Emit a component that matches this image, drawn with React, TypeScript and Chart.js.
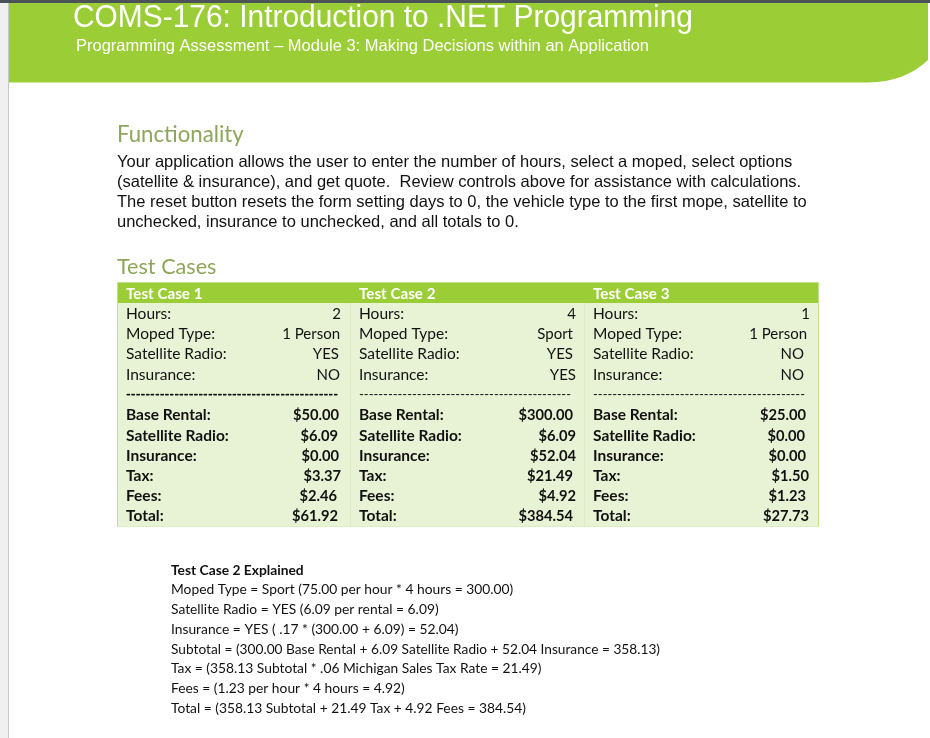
import React, { useEffect, useRef } from "react";
import { Chart, registerables } from "chart.js";

Chart.register(...registerables);

const titleText = "COMS-176: Introduction to .NET Programming";
const subtitleText = "Programming Assessment – Module 3: Making Decisions within an Application";
const functionalityHeading = "Functionality";
const functionalityLines = [
  "Your application allows the user to enter the number of hours, select a moped, select options",
  "(satellite & insurance), and get quote.  Review controls above for assistance with calculations.",
  "The reset button resets the form setting days to 0, the vehicle type to the first mope, satellite to",
  "unchecked, insurance to unchecked, and all totals to 0.",
];
const testCasesHeading = "Test Cases";
const caseNames = ["Test Case 1", "Test Case 2", "Test Case 3"];
const inputLabels = ["Hours:", "Moped Type:", "Satellite Radio:", "Insurance:"];
const costLabels = ["Base Rental:", "Satellite Radio:", "Insurance:", "Tax:", "Fees:", "Total:"];
const case1Inputs = ["2", "1 Person", "YES", "NO"];
const case2Inputs = ["4", "Sport", "YES", "YES"];
const case3Inputs = ["1", "1 Person", "NO", "NO"];
const case1Costs = ["$50.00", "$6.09", "$0.00", "$3.37", "$2.46", "$61.92"];
const case2Costs = ["$300.00", "$6.09", "$52.04", "$21.49", "$4.92", "$384.54"];
const case3Costs = ["$25.00", "$0.00", "$0.00", "$1.50", "$1.23", "$27.73"];
const explainedHeading = "Test Case 2 Explained";
const explainedLines = [
  "Moped Type = Sport (75.00 per hour * 4 hours = 300.00)",
  "Satellite Radio = YES (6.09 per rental = 6.09)",
  "Insurance = YES ( .17 * (300.00 + 6.09) = 52.04)",
  "Subtotal = (300.00 Base Rental + 6.09 Satellite Radio + 52.04 Insurance = 358.13)",
  "Tax = (358.13 Subtotal * .06 Michigan Sales Tax Rate = 21.49)",
  "Fees = (1.23 per hour * 4 hours = 4.92)",
  "Total = (358.13 Subtotal + 21.49 Tax + 4.92 Fees = 384.54)",
];
const dashes = "-".repeat(44);

const SANS = '"Liberation Sans", Arial, sans-serif';
const BODY = 'Lato, sans-serif';

const documentPlugin = {
  id: "documentPage",
  beforeDraw(chart: any) {
    const c = chart.ctx as CanvasRenderingContext2D;
    const text = (s: string, x: number, y: number, font: string, color: string, align: CanvasTextAlign = "left", maxW?: number) => {
      c.font = font;
      c.fillStyle = color;
      c.textAlign = align;
      c.textBaseline = "alphabetic";
      if (maxW) c.fillText(s, x, y, maxW);
      else c.fillText(s, x, y);
    };
    c.save();
    c.fillStyle = "#ffffff";
    c.fillRect(0, 0, 930, 738);
    c.fillStyle = "#f0f0f0";
    c.fillRect(0, 0, 8, 738);
    c.fillStyle = "#c8c8c8";
    c.fillRect(8, 0, 1, 738);
    // banner
    c.fillStyle = "#9bcd36";
    c.beginPath();
    c.moveTo(9, 0);
    c.lineTo(928, 0);
    c.lineTo(928, 60);
    c.quadraticCurveTo(905, 82, 868, 82.5);
    c.lineTo(9, 82.5);
    c.closePath();
    c.fill();
    c.fillStyle = "#4b5359";
    c.fillRect(0, 0, 930, 3);
    text(titleText, 73, 27, `31px ${SANS}`, "#ffffff", "left", 620);
    text(subtitleText, 76, 51, `16.5px ${SANS}`, "#ffffff", "left", 573);
    // body
    text(functionalityHeading, 117, 142, `22.2px ${BODY}`, "#8da65a");
    const fy = [167, 187, 207, 227];
    functionalityLines.forEach((l, i) => text(l, 117, fy[i], `16.5px ${SANS}`, "#111111", "left", 690));
    text(testCasesHeading, 117, 274, `21.6px ${BODY}`, "#8da65a");
    // table
    c.fillStyle = "#e8f3d6";
    c.fillRect(117, 282, 702, 245);
    c.fillStyle = "#9bcd36";
    c.fillRect(117, 283, 702, 20);
    c.fillStyle = "#c4e08c";
    c.fillRect(117, 282, 702, 1);
    c.fillRect(818, 282, 1, 245);
    c.fillRect(117, 282, 1, 245);
    c.fillStyle = "#dcedc0";
    c.fillRect(117, 526, 702, 1);
    c.fillRect(350, 303, 1, 223);
    c.fillRect(584, 303, 1, 223);
    const colX = [126, 359, 593];
    const inputs = [case1Inputs, case2Inputs, case3Inputs];
    const costs = [case1Costs, case2Costs, case3Costs];
    const inRight = [[341, 340, 339, 340], [576, 573, 573, 576], [810, 807, 804, 804]];
    const costRight = [[339, 338, 339, 341, 337, 338], [573, 576, 576, 573, 576, 573], [806, 805, 806, 809, 806, 809]];
    const inY = [319, 339, 359, 380];
    const costY = [420, 441, 461, 481, 501, 521];
    caseNames.forEach((n, i) => {
      text(n, colX[i], 299, `bold 15.2px ${BODY}`, "#ffffff");
      inputLabels.forEach((l, r) => {
        text(l, colX[i], inY[r], `15.5px ${BODY}`, "#111111");
        text(inputs[i][r], inRight[i][r], inY[r], `15px ${BODY}`, "#111111", "right");
      });
      text(dashes, colX[i], 399, `${i === 0 ? "bold " : ""}13px ${BODY}`, "#111111", "left", 212);
      if (i === 0) text(dashes, colX[i], 399, `bold 13px ${BODY}`, "#111111", "left", 212);
      costLabels.forEach((l, r) => {
        text(l, colX[i], costY[r], `bold 15.5px ${BODY}`, "#111111");
        text(costs[i][r], costRight[i][r], costY[r], `bold 14.7px ${BODY}`, "#111111", "right");
      });
    });
    // explanation
    text(explainedHeading, 171, 575, `bold 13.8px ${BODY}`, "#111111");
    const ey = [594, 614, 634, 654, 673, 693, 713];
    explainedLines.forEach((l, i) => text(l, 171, ey[i], `13.8px ${BODY}`, "#111111", "left", 489));
    c.restore();
  },
};

export default function App() {
  const ref = useRef<HTMLCanvasElement | null>(null);
  useEffect(() => {
    document.body.style.margin = "0";
    const chart = new Chart(ref.current as HTMLCanvasElement, {
      type: "scatter",
      data: { datasets: [] },
      options: {
        animation: false,
        responsive: false,
        devicePixelRatio: 1,
        layout: { padding: 0 },
        plugins: { legend: { display: false }, title: { display: false }, tooltip: { enabled: false } },
        scales: { x: { display: false }, y: { display: false } },
      },
      plugins: [documentPlugin],
    } as any);
    return () => chart.destroy();
  }, []);
  return <canvas ref={ref} width={930} height={738} style={{ display: "block", width: 930, height: 738 }} />;
}
